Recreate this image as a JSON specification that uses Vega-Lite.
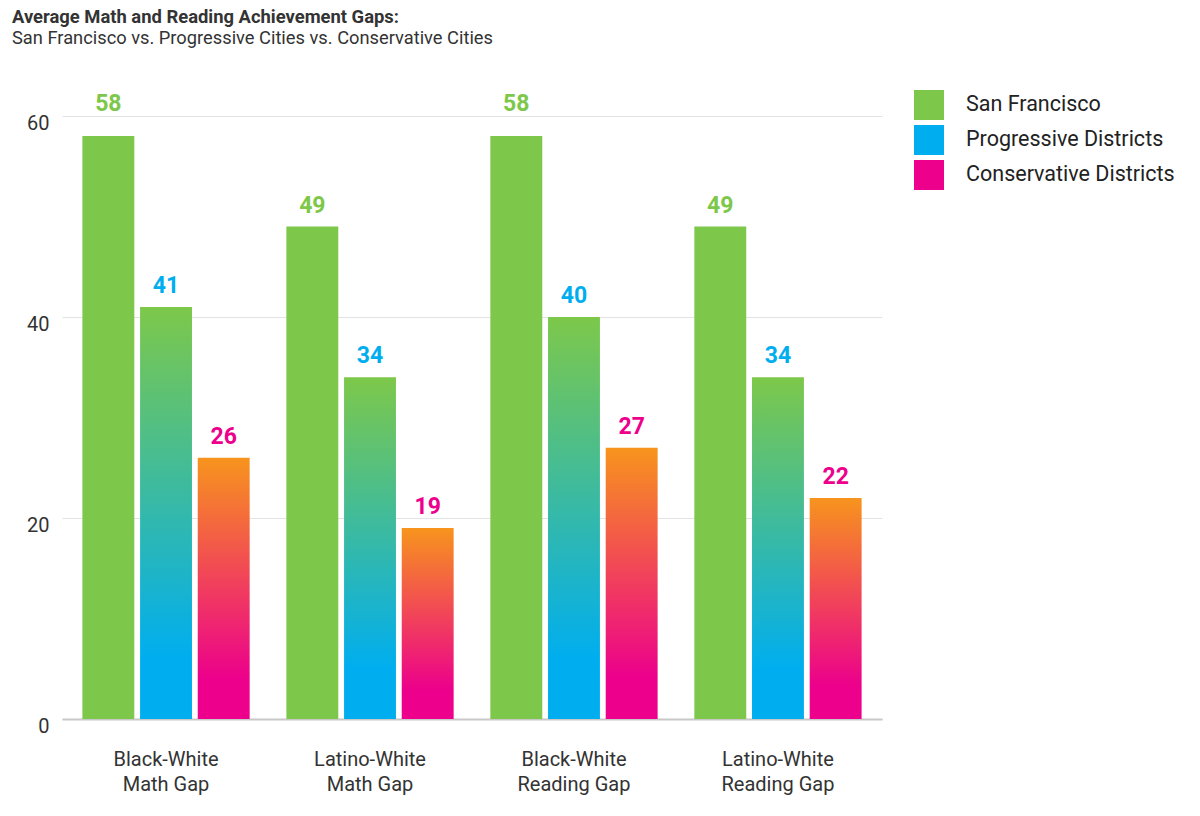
{
  "$schema": "https://vega.github.io/schema/vega-lite/v6.json",
  "autosize": "none",
  "width": 820,
  "height": 603,
  "padding": {"left": 62, "top": 116, "right": 318, "bottom": 97},
  "background": "white",
  "config": {
    "font": "Roboto",
    "view": {"stroke": null}
  },
  "title": {
    "text": "Average Math and Reading Achievement Gaps:",
    "subtitle": "San Francisco vs. Progressive Cities vs. Conservative Cities",
    "anchor": "start",
    "frame": "group",
    "dx": -50,
    "offset": 43,
    "font": "Roboto",
    "fontSize": 18.4,
    "fontWeight": "bold",
    "color": "#333333",
    "subtitleFont": "Roboto",
    "subtitleFontSize": 18.3,
    "subtitleColor": "#333333",
    "subtitlePadding": 3
  },
  "data": {
    "values": [
      {"gap": "Black-White Math Gap", "series": "San Francisco", "value": 58},
      {"gap": "Black-White Math Gap", "series": "Progressive Districts", "value": 41},
      {"gap": "Black-White Math Gap", "series": "Conservative Districts", "value": 26},
      {"gap": "Latino-White Math Gap", "series": "San Francisco", "value": 49},
      {"gap": "Latino-White Math Gap", "series": "Progressive Districts", "value": 34},
      {"gap": "Latino-White Math Gap", "series": "Conservative Districts", "value": 19},
      {"gap": "Black-White Reading Gap", "series": "San Francisco", "value": 58},
      {"gap": "Black-White Reading Gap", "series": "Progressive Districts", "value": 40},
      {"gap": "Black-White Reading Gap", "series": "Conservative Districts", "value": 27},
      {"gap": "Latino-White Reading Gap", "series": "San Francisco", "value": 49},
      {"gap": "Latino-White Reading Gap", "series": "Progressive Districts", "value": 34},
      {"gap": "Latino-White Reading Gap", "series": "Conservative Districts", "value": 22}
    ]
  },
  "encoding": {
    "x": {
      "field": "gap",
      "type": "nominal",
      "sort": null,
      "scale": {"paddingInner": 0.18, "paddingOuter": 0.1},
      "axis": {
        "title": null,
        "labelAngle": 0,
        "labelExpr": "split(replace(datum.value, ' ', '|'), '|')",
        "labelFont": "Roboto",
        "labelFontSize": 20,
        "labelColor": "#333333",
        "labelLineHeight": 25,
        "labelPadding": 30,
        "ticks": false,
        "domain": true,
        "domainColor": "#c8c8c8",
        "domainWidth": 2
      }
    },
    "xOffset": {
      "field": "series",
      "type": "nominal",
      "scale": {
        "domain": ["San Francisco", "Progressive Districts", "Conservative Districts"],
        "paddingInner": 0.1,
        "paddingOuter": 0
      }
    },
    "y": {
      "field": "value",
      "type": "quantitative",
      "scale": {"domain": [0, 60], "nice": false},
      "axis": {
        "title": null,
        "values": [0, 20, 40, 60],
        "domain": false,
        "ticks": false,
        "gridColor": "#e3e3e3",
        "gridWidth": 1,
        "labelFont": "Roboto",
        "labelFontSize": 20,
        "labelColor": "#333333",
        "labelPadding": 13,
        "labelBaseline": "middle",
        "labelOffset": 7
      }
    }
  },
  "layer": [
    {
      "transform": [{"filter": "datum.series === 'San Francisco'"}],
      "mark": {"type": "bar", "color": "#7dc84a"}
    },
    {
      "transform": [{"filter": "datum.series === 'Progressive Districts'"}],
      "mark": {
        "type": "bar",
        "color": {
          "gradient": "linear", "x1": 0, "y1": 0, "x2": 0, "y2": 1,
          "stops": [{"offset": 0, "color": "#7dc84a"}, {"offset": 0.85, "color": "#00aeef"}, {"offset": 1, "color": "#00aeef"}]
        }
      }
    },
    {
      "transform": [{"filter": "datum.series === 'Conservative Districts'"}],
      "mark": {
        "type": "bar",
        "color": {
          "gradient": "linear", "x1": 0, "y1": 0, "x2": 0, "y2": 1,
          "stops": [{"offset": 0, "color": "#f7941d"}, {"offset": 0.85, "color": "#ec008c"}, {"offset": 1, "color": "#ec008c"}]
        }
      }
    },
    {
      "transform": [{"filter": "datum.value < 55"}],
      "mark": {"type": "text", "font": "Roboto", "fontSize": 23, "fontWeight": "bold", "baseline": "alphabetic", "dy": -14},
      "encoding": {
        "text": {"field": "value", "type": "quantitative"},
        "color": {
          "field": "series",
          "type": "nominal",
          "scale": {
            "domain": ["San Francisco", "Progressive Districts", "Conservative Districts"],
            "range": ["#7dc84a", "#00aeef", "#ec008c"]
          },
          "legend": {
            "title": null,
            "orient": "none",
            "legendX": 852,
            "legendY": -26,
            "symbolType": "square",
            "symbolSize": 900,
            "symbolStrokeWidth": 0,
            "symbolOpacity": 1,
            "labelFont": "Roboto",
            "labelFontSize": 21.5,
            "labelColor": "#222222",
            "labelOffset": 22,
            "labelLimit": 0,
            "rowPadding": 5
          }
        }
      }
    },
    {
      "transform": [{"filter": "datum.value >= 55"}],
      "mark": {"type": "text", "font": "Roboto", "fontSize": 23, "fontWeight": "bold", "baseline": "alphabetic", "dy": -25},
      "encoding": {
        "text": {"field": "value", "type": "quantitative"},
        "color": {
          "field": "series",
          "type": "nominal",
          "scale": {
            "domain": ["San Francisco", "Progressive Districts", "Conservative Districts"],
            "range": ["#7dc84a", "#00aeef", "#ec008c"]
          },
          "legend": null
        }
      }
    }
  ]
}
